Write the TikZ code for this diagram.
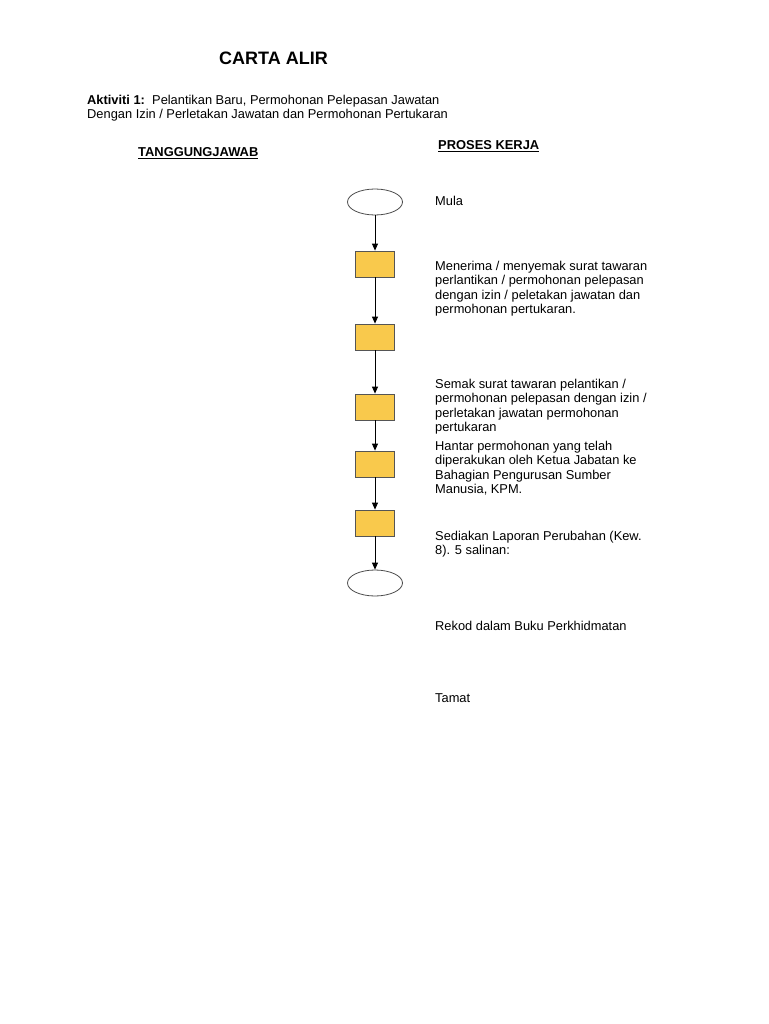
\documentclass[tikz,border=0pt]{standalone}
\usepackage{fontspec}
\setmainfont{Liberation Sans}
\usetikzlibrary{shapes.geometric,arrows.meta}
\definecolor{boxfill}{HTML}{F9C94C}
\definecolor{boxline}{HTML}{555555}
\begin{document}
\begin{tikzpicture}[x=1pt,y=-1pt,
  term/.style={ellipse,draw=black!70,line width=0.8pt,minimum width=55pt,minimum height=26pt,inner sep=0pt},
  procbox/.style={rectangle,draw=boxline,line width=0.8pt,fill=boxfill,minimum width=39pt,minimum height=26pt,inner sep=0pt},
  flow/.style={draw=black,line width=0.8pt,-{Triangle[width=6pt,length=7pt]}},
  body/.style={font=\fontsize{12.85}{14.3}\selectfont,align=left,inner sep=0pt,anchor=north west},
  head/.style={font=\fontsize{12.9}{14}\selectfont\bfseries,inner sep=0pt,anchor=base west}
]
\useasboundingbox (0,0) rectangle (768,1024);
\fill[white] (0,0) rectangle (768,1024);

\node[font=\fontsize{18}{20}\selectfont\bfseries,inner sep=0pt,anchor=base west] (title) at (219,65) {CARTA ALIR};
\node[body] (akt) at (87,95) {\textbf{Aktiviti 1:}\ \ Pelantikan Baru, Permohonan Pelepasan Jawatan\\Dengan Izin / Perletakan Jawatan dan Permohonan Pertukaran};
\node[head] (tj) at (138,157) {\underline{TANGGUNGJAWAB}};
\node[head] (pk) at (438,150) {\underline{PROSES KERJA}};

\node[term] (start) at (375,202) {};
\node[procbox] (b1) at (375,264) {};
\node[procbox] (b2) at (375,337) {};
\node[procbox] (b3) at (375,407) {};
\node[procbox] (b4) at (375,464) {};
\node[procbox] (b5) at (375,523) {};
\node[term] (end) at (375,583) {};

\draw[flow] (start) -- (b1);
\draw[flow] (b1) -- (b2);
\draw[flow] (b2) -- (b3);
\draw[flow] (b3) -- (b4);
\draw[flow] (b4) -- (b5);
\draw[flow] (b5) -- (end);

\node[body] (t0) at (435,196) {Mula};
\node[body] (t1) at (435,261) {Menerima / menyemak surat tawaran\\perlantikan / permohonan pelepasan\\dengan izin / peletakan jawatan dan\\permohonan pertukaran.};
\node[body] (t2) at (435,379) {Semak surat tawaran pelantikan /\\permohonan pelepasan dengan izin /\\perletakan jawatan permohonan\\pertukaran};
\node[body] (t3) at (435,441) {Hantar permohonan yang telah\\diperakukan oleh Ketua Jabatan ke\\Bahagian Pengurusan Sumber\\Manusia, KPM.};
\node[body] (t4) at (435,531) {Sediakan Laporan Perubahan (Kew.\\8). 5 salinan:};
\node[body] (t5) at (435,621) {Rekod dalam Buku Perkhidmatan};
\node[body] (t6) at (435,693) {Tamat};
\end{tikzpicture}
\end{document}
